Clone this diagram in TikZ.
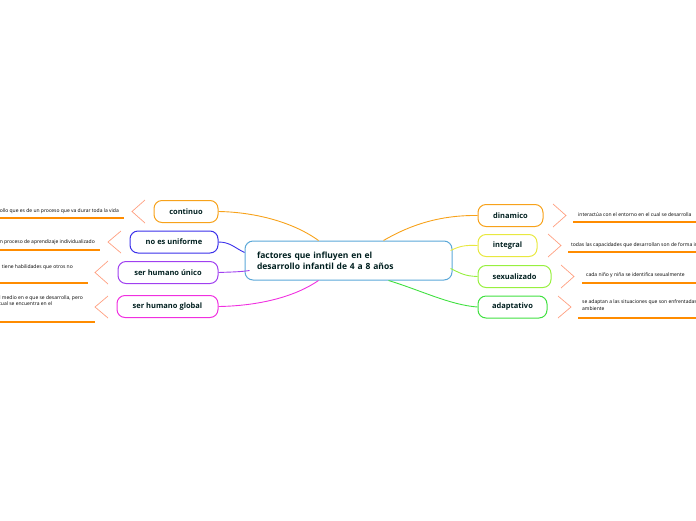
\documentclass[tikz,border=0pt]{standalone}
\usepackage{fontspec}
\setmainfont{Open Sans}
\begin{document}
\begin{tikzpicture}[x=1pt,y=-1pt,
 box/.style={draw,rounded corners=8pt,line width=1pt,minimum height=22pt,text=black!70!teal!80!black,font=\bfseries\fontsize{7.5}{9}\selectfont,inner xsep=6pt},
 lt/.style={font=\fontsize{5}{6.5}\selectfont,align=left,inner sep=0pt},
 ul/.style={draw=orange!90!yellow,line width=1.2pt},
 br/.style={draw=orange!50!red!50!white,line width=0.7pt},
 con/.style={line width=0.9pt}]
\useasboundingbox (0,0) rectangle (696,520);
\clip (0,0) rectangle (696,520);
\definecolor{cOr}{HTML}{F7A21B}\definecolor{cBl}{HTML}{3A2FEA}\definecolor{cPu}{HTML}{A040F0}
\definecolor{cMa}{HTML}{F030E0}\definecolor{cYe}{HTML}{E8E840}\definecolor{cYg}{HTML}{98F040}
\definecolor{cGr}{HTML}{40E040}\definecolor{cCe}{HTML}{5BA8D8}
\node[box,draw=cCe,minimum width=207pt,minimum height=39pt,text width=183pt,align=left,font=\bfseries\fontsize{8.5}{11}\selectfont] (c) at (348.5,260.5) {factores que influyen en el\\desarrollo infantil de 4 a 8 años};
% left
\node[box,draw=cOr,minimum width=64pt] (l1) at (186,211.5) {continuo};
\node[box,draw=cBl,minimum width=88pt] (l2) at (174,242) {no es uniforme};
\node[box,draw=cPu,minimum width=100pt] (l3) at (168,272.5) {ser humano único};
\node[box,draw=cMa,minimum width=101pt] (l4) at (167.5,306.5) {ser humano global};
% right
\node[box,draw=cOr,minimum width=65pt] (r1) at (510.5,215.5) {dinamico};
\node[box,draw=cYe,minimum width=59pt] (r2) at (507.5,245.5) {integral};
\node[box,draw=cYg,minimum width=73pt] (r3) at (514.5,276.5) {sexualizado};
\node[box,draw=cGr,minimum width=69pt] (r4) at (512.5,307) {adaptativo};
% connectors
\draw[con,cOr] (c.north) ++(-30,0) coordinate (a1) .. controls (290,220) and (250,212) .. (l1.east);
\draw[con,cBl] (c.west) ++(0,-8) coordinate (a2) .. controls (235,248) and (230,242) .. (l2.east);
\draw[con,cPu] (c.west) ++(5,10) coordinate (a3) .. controls (240,272) and (230,272) .. (l3.east);
\draw[con,cMa] (c.south) ++(-30,0) coordinate (a4) .. controls (290,300) and (250,306) .. (l4.east);
\draw[con,cOr] (c.north) ++(35,0) coordinate (b1) .. controls (410,225) and (440,215) .. (r1.west);
\draw[con,cYe] (c.east) ++(-2,-10) coordinate (b2) .. controls (460,246) and (465,245) .. (r2.west);
\draw[con,cYg] (c.east) ++(-2,8) coordinate (b3) .. controls (462,274) and (465,276) .. (r3.west);
\draw[con,cGr] (c.south) ++(40,0) coordinate (b4) .. controls (420,290) and (450,305) .. (r4.west);
% left brackets and texts
\draw[br] (145,200) -- (132,211.5) -- (145,223);
\draw[br] (121,231) -- (108,242) -- (121,253);
\draw[br] (108,261) -- (95,272.5) -- (108,284);
\draw[br] (108,296) -- (95,307) -- (108,318);
\draw[ul] (0,218) -- (124,218);
\draw[ul] (0,250) -- (100,250);
\draw[ul] (0,283) -- (88,283);
\draw[ul] (0,322) -- (95,322);
\node[lt,anchor=east] (t1) at (119,211) {desarrollo que es de un proceso que va durar toda la vida};
\node[lt,anchor=east] (t2) at (95,242) {es un proceso de aprendizaje individualizado};
\node[lt,anchor=north east] (t3) at (73,264) {tiene habilidades que otros no\\\ };
\node[lt,anchor=north east] (t4) at (83,295) {es el medio en e que se desarrolla, pero\\del cual se encuentra en el};
% right brackets and texts
\draw[br] (553,204) -- (566,215.5) -- (553,227);
\draw[br] (548,234) -- (561,245.5) -- (548,257);
\draw[br] (561,265) -- (574,276.5) -- (561,288);
\draw[br] (558,296) -- (571,307) -- (558,318);
\draw[ul] (573,222) -- (696,222);
\draw[ul] (568,252) -- (696,252);
\draw[ul] (582,283) -- (696,283);
\draw[ul] (578,318) -- (696,318);
\node[lt,anchor=west] (s1) at (578,215) {interactúa con el entorno en el cual se desarrolla};
\node[lt,anchor=west] (s2) at (571,245) {todas las capacidades que desarrollan son de forma integral};
\node[lt,anchor=west] (s3) at (586,275.5) {cada niño y niña se identifica sexualmente};
\node[lt,anchor=west] (s4) at (582,305) {se adaptan a las situaciones que son enfrentadas al\\ambiente};
\end{tikzpicture}
\end{document}
